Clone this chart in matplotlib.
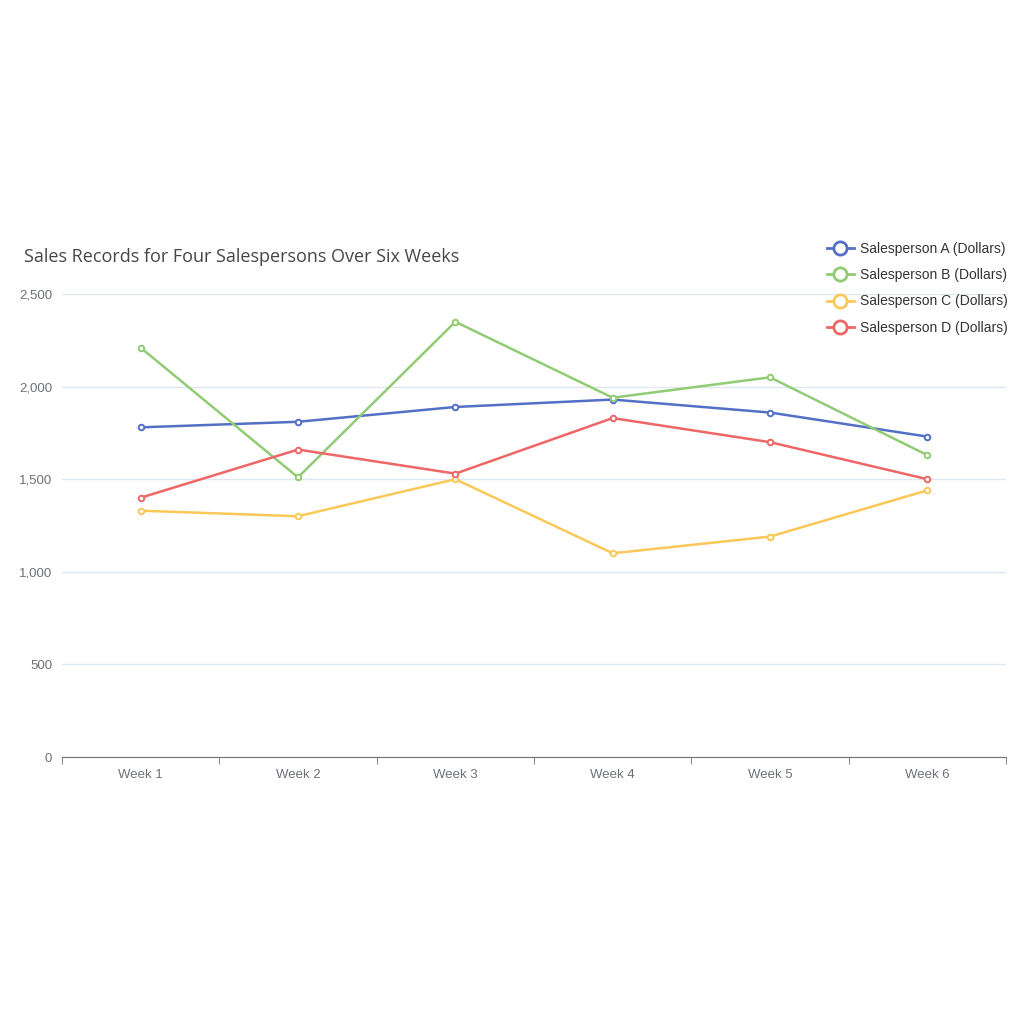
import numpy as np
import matplotlib.pyplot as plt
from matplotlib.lines import Line2D
from matplotlib.ticker import FuncFormatter

weeks = ["Week 1", "Week 2", "Week 3", "Week 4", "Week 5", "Week 6"]
sales_a = [1780, 1810, 1890, 1930, 1860, 1730]
sales_b = [2210, 1510, 2350, 1940, 2050, 1630]
sales_c = [1330, 1300, 1500, 1100, 1190, 1440]
sales_d = [1400, 1660, 1530, 1830, 1700, 1500]
names = ["Salesperson A (Dollars)", "Salesperson B (Dollars)",
         "Salesperson C (Dollars)", "Salesperson D (Dollars)"]
colors = ["#5470c6", "#91cc75", "#fac858", "#ee6666"]

plt.rcParams['font.family'] = ['Liberation Sans', 'DejaVu Sans']

fig = plt.figure(figsize=(10.24, 10.24), dpi=100)
ax = fig.add_axes([62/1024, 1 - 757/1024, 944/1024, 463/1024])

x = np.arange(len(weeks))
handles = []
for vals, c, n in zip([sales_a, sales_b, sales_c, sales_d], colors, names):
    ax.plot(x, vals, color=c, lw=1.8, marker='o', ms=4, mfc='white', mec=c, mew=1.4, zorder=3)
    handles.append(Line2D([0], [0], color=c, lw=2, marker='o', ms=9.5, mfc='white', mec=c, mew=2))

ax.set_xlim(-0.5, len(weeks) - 0.5)
ax.set_ylim(0, 2500)
ax.set_yticks(np.arange(0, 2501, 500))
ax.yaxis.set_major_formatter(FuncFormatter(lambda v, p: f"{int(v):,}"))
ax.grid(axis='y', color='#e0e6f1', lw=1)
ax.set_axisbelow(True)

ax.set_xticks(x)
ax.set_xticklabels(weeks)
ax.set_xticks(np.arange(-0.5, len(weeks)), minor=True)
ax.tick_params(axis='x', which='major', length=0, pad=9, labelsize=9.5, labelcolor='#6e7079')
ax.tick_params(axis='x', which='minor', length=5, color='#6e7079', direction='out')
ax.tick_params(axis='y', length=0, pad=7, labelsize=9.5, labelcolor='#6e7079')

for s in ['top', 'right', 'left']:
    ax.spines[s].set_visible(False)
ax.spines['bottom'].set_color('#6e7079')

fig.text(24/1024, 1 - 257/1024, "Sales Records for Four Salespersons Over Six Weeks",
         fontsize=13, color='#464646', family=['Open Sans', 'DejaVu Sans'], va='center')

fig.legend(handles=handles, labels=names, loc='upper right',
           bbox_to_anchor=(1020/1024, 1 - 229/1024), frameon=False,
           fontsize=10, handlelength=1.9, labelspacing=0.9, handletextpad=0.45,
           labelcolor='#333333')

fig.savefig("out.png", dpi=100)
